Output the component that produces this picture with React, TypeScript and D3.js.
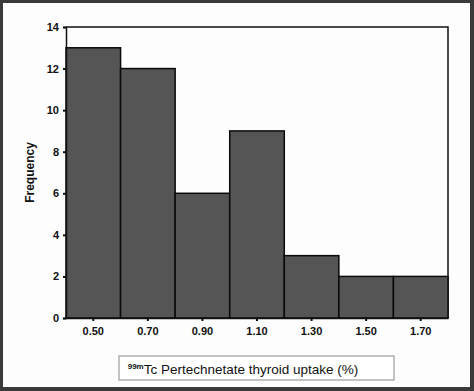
import React, { useEffect, useRef } from 'react';
import * as d3 from 'd3';

const binLabels = ['0.50', '0.70', '0.90', '1.10', '1.30', '1.50', '1.70'];
const frequencies = [13, 12, 6, 9, 3, 2, 2];
const yTicks = [0, 2, 4, 6, 8, 10, 12, 14];

const App: React.FC = () => {
  const svgRef = useRef<SVGSVGElement | null>(null);

  useEffect(() => {
    if (!svgRef.current) return;
    const width = 474, height = 391;
    const left = 66, right = 448, top = 27, bottom = 318;
    const svg = d3.select(svgRef.current);
    svg.selectAll('*').remove();
    svg.attr('viewBox', `0 0 ${width} ${height}`);

    // outer frame
    svg.append('rect').attr('x', 0).attr('y', 0).attr('width', width).attr('height', height).attr('fill', '#3a3a3a');
    svg.append('rect').attr('x', 3).attr('y', 3).attr('width', width - 7).attr('height', height - 7).attr('fill', '#fdfdfd');

    const x = d3.scaleBand<string>().domain(binLabels).range([left, right]).padding(0);
    const y = d3.scaleLinear().domain([0, 14]).range([bottom, top]);
    const data = binLabels.map((label, i) => ({ label, value: frequencies[i] }));

    // plot box (top & right)
    svg.append('path')
      .attr('d', `M${left},${top}H${right}V${bottom}`)
      .attr('fill', 'none').attr('stroke', '#111').attr('stroke-width', 1.5);

    svg.append('g').selectAll('rect').data(data).enter().append('rect')
      .attr('x', d => x(d.label)!)
      .attr('y', d => y(d.value))
      .attr('width', x.bandwidth())
      .attr('height', d => y(0) - y(d.value))
      .attr('fill', '#555555')
      .attr('stroke', '#0a0a0a')
      .attr('stroke-width', 1.5);

    const font = 'Liberation Sans, Arial, sans-serif';

    const yAxis = svg.append('g').attr('transform', `translate(${left},0)`)
      .call(d3.axisLeft(y).tickValues(yTicks).tickSize(3).tickPadding(4).tickFormat(d3.format('d')));
    yAxis.select('.domain').attr('stroke', '#111').attr('stroke-width', 1.5);
    yAxis.selectAll('.tick line').attr('stroke', '#111').attr('stroke-width', 2);
    yAxis.selectAll('text').attr('font-family', font).attr('font-size', 11).attr('font-weight', 'bold').attr('fill', '#111');

    const xAxis = svg.append('g').attr('transform', `translate(0,${bottom})`)
      .call(d3.axisBottom(x).tickSize(3).tickPadding(6).tickSizeOuter(0));
    xAxis.select('.domain').attr('stroke', '#111').attr('stroke-width', 1.5);
    xAxis.selectAll('.tick line').attr('stroke', '#111').attr('stroke-width', 2);
    xAxis.selectAll('text').attr('font-family', font).attr('font-size', 11).attr('font-weight', 'bold').attr('fill', '#111');

    svg.append('text')
      .attr('transform', `translate(34,${(top + bottom) / 2}) rotate(-90)`)
      .attr('text-anchor', 'middle')
      .attr('font-family', font).attr('font-size', 12).attr('font-weight', 'bold').attr('fill', '#111')
      .text('Frequency');

    // x title box
    svg.append('rect').attr('x', 119).attr('y', 356).attr('width', 275).attr('height', 24)
      .attr('fill', '#fff').attr('stroke', '#888').attr('stroke-width', 1);
    const title = svg.append('text')
      .attr('x', 243).attr('y', 374)
      .attr('text-anchor', 'middle')
      .attr('font-family', font).attr('font-size', 13.5).attr('fill', '#111');
    title.append('tspan').attr('font-size', 8).attr('font-weight', 'bold').attr('dy', -5).text('99m');
    title.append('tspan').attr('dy', 5).text('Tc Pertechnetate thyroid uptake (%)');
  }, []);

  return (
    <svg ref={svgRef} width={474} height={391}
      style={{ position: 'absolute', left: 0, top: 0, display: 'block' }} />
  );
};

export default App;
